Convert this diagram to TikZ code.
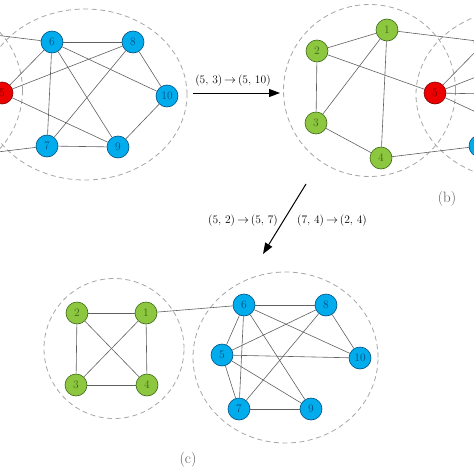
\documentclass[tikz,border=0pt]{standalone}
\usetikzlibrary{arrows.meta}

\definecolor{gnfill}{RGB}{141,198,63}
\definecolor{gnline}{RGB}{60,105,25}
\definecolor{blfill}{RGB}{0,172,236}
\definecolor{blline}{RGB}{0,78,128}
\definecolor{rdfill}{RGB}{236,0,0}
\definecolor{rdline}{RGB}{125,0,0}

\begin{document}
\begin{tikzpicture}[x=1pt, y=-1pt,
    vtx/.style={circle, draw, minimum size=22pt, inner sep=0pt, line width=0.6pt,
                font=\fontsize{11.5}{12}\selectfont},
    gn/.style={vtx, fill=gnfill, draw=gnline, text=gnline},
    bl/.style={vtx, fill=blfill, draw=blline, text=blline},
    rd/.style={vtx, fill=rdfill, draw=rdline, text=rdline},
    edge/.style={gray!75!black, line width=0.6pt},
    grp/.style={gray!70, dash pattern=on 5pt off 3.5pt, line width=0.8pt},
    flow/.style={line width=1pt, -{Triangle[length=11pt, width=8pt]}},
    lab/.style={font=\fontsize{11.5}{13}\selectfont},
    panellab/.style={font=\fontsize{15}{17}\selectfont, text=gray!70!black}]

    \useasboundingbox (0,0) rectangle (474,474);
    \clip (0,0) rectangle (474,474);

    % --- (a), (b): 同じ配置を横にずらして描く ---
    \foreach \p/\dx in {a/-433, b/0} {
        \begin{scope}[shift={(\dx,0)}]
            % グループの境界
            \draw[grp] (369.5,90.5) circle (86pt);
            \draw[grp] (518,94.5) ellipse [x radius=102pt, y radius=85.5pt];

            % 頂点
            \node[gn] (\p1) at (387,30) {1};
            \node[gn] (\p2) at (317,51) {2};
            \node[gn] (\p3) at (316,123) {3};
            \node[gn] (\p4) at (381,158) {4};
            \node[rd] (\p5) at (435,93) {5};
            \node[bl] (\p6) at (485,42) {6};
            \node[bl] (\p7) at (480,146) {7};
            \node[bl] (\p8) at (566,42) {8};
            \node[bl] (\p9) at (551,147) {9};
            \node[bl] (\p10) at (600,96) {10};

            % 共通の辺
            \foreach \u/\v in {1/2, 2/3, 1/3, 1/4, 3/4, 1/6, 4/7, 2/5, 5/6, 5/8, 5/9,
                               6/8, 6/7, 6/9, 6/10, 8/10, 8/7, 10/9, 7/9} {
                \draw[edge] (\p\u) -- (\p\v);
            }
        \end{scope}
    }
    % (a) と (b) で違う辺
    \draw[edge] (a3) -- (a5);
    \draw[edge] (b5) -- (b10);

    % --- (c) ---
    \draw[grp] (114,348.5) circle (70pt);
    \draw[grp] (285.5,357.5) ellipse [x radius=92.5pt, y radius=85.5pt];

    \node[gn] (c1) at (146,313) {1};
    \node[gn] (c2) at (77,313) {2};
    \node[gn] (c3) at (76,385) {3};
    \node[gn] (c4) at (147,385) {4};
    \node[bl] (c5) at (222,355) {5};
    \node[bl] (c6) at (244,305) {6};
    \node[bl] (c7) at (239,409) {7};
    \node[bl] (c8) at (326,305) {8};
    \node[bl] (c9) at (311,409) {9};
    \node[bl] (c10) at (360,358) {10};

    \foreach \u/\v in {1/2, 2/3, 2/4, 1/3, 1/4, 3/4, 1/6, 6/8, 5/6, 6/7, 6/9, 6/10,
                       5/8, 7/8, 8/10, 5/10, 5/7, 5/9, 7/9} {
        \draw[edge] (c\u) -- (c\v);
    }

    % --- 変換の矢印 ---
    \coordinate (ab-s) at (193,93);
    \coordinate (ab-e) at (280,93);
    \draw[flow] (ab-s) -- (ab-e);
    \node[lab] (ab-lab) at (233,81) {(5,~3)\,$\to$\,(5,~10)};

    \coordinate (bc-s) at (306,184);
    \coordinate (bc-e) at (263,254);
    \draw[flow] (bc-s) -- (bc-e);
    \node[lab] (bc-lab1) at (243,221) {(5,~2)\,$\to$\,(5,~7)};
    \node[lab] (bc-lab2) at (332,221) {(7,~4)\,$\to$\,(2,~4)};

    % 図の番号
    \node[panellab] (lab-b) at (447,199) {(b)};
    \node[panellab] (lab-c) at (188,460) {(c)};

\end{tikzpicture}
\end{document}
